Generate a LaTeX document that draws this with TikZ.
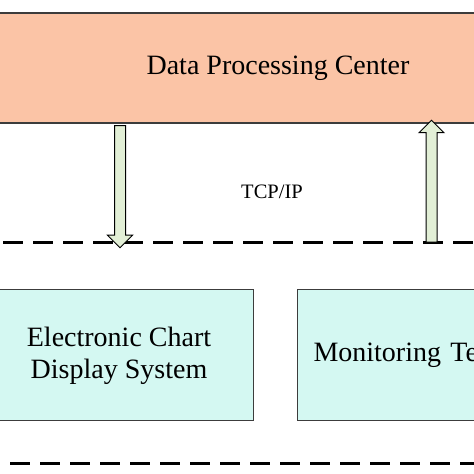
\documentclass[tikz,border=0pt]{standalone}
\usepackage{xcolor}
\usepackage{fontspec}
\setmainfont{Liberation Serif}
\usepackage{tikz}
\usetikzlibrary{positioning,shapes.arrows}

\definecolor{peach}{HTML}{FBC4A6}
\definecolor{paleaqua}{HTML}{D4F8F2}
\definecolor{palegreen}{HTML}{E2EFD6}
\definecolor{edgegray}{HTML}{3C3C3C}

\begin{document}
\begin{tikzpicture}
[x=1pt, y=1pt,
    every node/.style={inner sep=0pt, align=center},
    dpcbox/.style={rectangle, fill=peach, draw=edgegray, line width=1.2pt,
    minimum width=570pt, minimum height=110pt,
    font=\fontsize{28}{32}\selectfont},
    sysbox/.style={rectangle, fill=paleaqua, draw=edgegray, line width=1pt,
    minimum height=131pt, font=\fontsize{28}{32}\selectfont},
    fatarrow/.style={single arrow, fill=palegreen, draw=black, line width=1pt,
    inner xsep=0pt, inner ysep=5pt, minimum width=24pt,
    single arrow head extend=7pt, single arrow tip angle=90,
    minimum height=122pt},
    busline/.style={line width=3pt, dash pattern=on 20pt off 10pt}
    ]
    \useasboundingbox (0,0) rectangle (474,474);
    \clip (0,0) rectangle (474,474);

    % upper layer
    \node[dpcbox] (dpc) at (278,406) {Data Processing Center};

    % network bus
    \coordinate (busL) at (0,231);
    \coordinate (busR) at (474,231);
    \draw[busline, dash phase=27pt] (busL) -- (busR);

    \node[fatarrow, rotate=-90] (down) at (120,290) {};
    \node[fatarrow, rotate=90] (up) at (431.5,290) {};
    \node[font=\fontsize{20.5}{24}\selectfont] (tcp) at (272,282) {TCP/IP};

    % lower layer
    \node[sysbox, minimum width=268pt] (ecds) at (119,118.5)
        {Electronic Chart\\Display System};
    \node[sysbox, anchor=west, text width=284pt, inner xsep=16pt, align=left]
        (mon) at (297,118.5) {Monitoring Te};

    \coordinate (baseL) at (10,10);
    \coordinate (baseR) at (474,10);
    \draw[busline] (baseL) -- (baseR);
\end{tikzpicture}
\end{document}
